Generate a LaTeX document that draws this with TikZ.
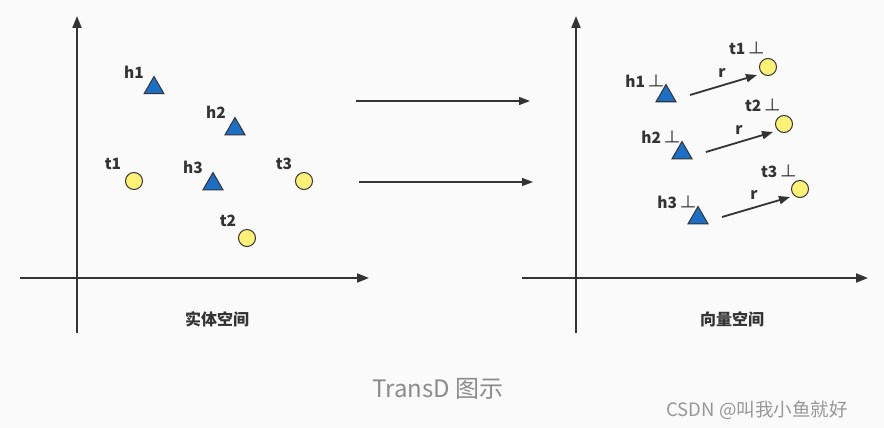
\documentclass[tikz,border=0pt]{standalone}
\usepackage{fontspec}
\setmainfont{Noto Sans CJK SC}
\usetikzlibrary{shapes.geometric,arrows.meta}
\definecolor{headblue}{HTML}{1C6FC6}
\definecolor{tailyellow}{HTML}{FFF176}
\definecolor{inkgray}{HTML}{333333}
\definecolor{capgray}{HTML}{8C8C8C}
\definecolor{paper}{HTML}{FAFAFA}
\tikzset{
  headtri/.style={regular polygon, regular polygon sides=3, minimum size=23pt,
    inner sep=0pt, fill=headblue, draw=inkgray, line width=1pt},
  tailcirc/.style={circle, minimum size=17pt, inner sep=0pt, fill=tailyellow,
    draw=inkgray, line width=1pt},
  lbl/.style={font=\bfseries\fontsize{15.5}{18}\selectfont, text=inkgray, inner sep=0pt},
  spacelbl/.style={font=\bfseries\fontsize{16}{18}\selectfont, text=inkgray, inner sep=0pt},
  axis/.style={line width=1.8pt, draw=inkgray, -{Triangle[length=12pt,width=9pt]}},
  mapto/.style={line width=1.3pt, draw=inkgray, -{Triangle[length=11pt,width=8pt]}},
  rel/.style={line width=1.8pt, draw=inkgray, -{Triangle[length=11pt,width=8pt]}}
}
\newcommand{\perpmark}{\,{\mdseries\fontsize{17}{18}\selectfont ⊥}}
\begin{document}
\begin{tikzpicture}[x=1pt,y=-1pt]
\useasboundingbox (0,0) rectangle (884,428);
\fill[paper] (0,0) rectangle (884,428);
%
% entity space
\coordinate (lyb) at (77,333);
\coordinate (lyt) at (77,16);
\coordinate (lxl) at (20,278);
\coordinate (lxr) at (369,278);
\draw[axis] (lyb) -- (lyt);
\draw[axis] (lxl) -- (lxr);
\node[spacelbl] (lcap) at (217,319) {实体空间};
%
\node[headtri] (h1) at (154,88) {};
\node[headtri] (h2) at (235,129) {};
\node[headtri] (h3) at (213,184) {};
\node[lbl] (h1lab) at (134,72) {h1};
\node[lbl] (h2lab) at (216,112) {h2};
\node[lbl] (h3lab) at (193,167) {h3};
%
\node[tailcirc] (t1) at (134,181) {};
\node[tailcirc] (t2) at (247,238) {};
\node[tailcirc] (t3) at (304,181) {};
\node[lbl] (t1lab) at (113,164) {t1};
\node[lbl] (t2lab) at (228,221) {t2};
\node[lbl] (t3lab) at (284,164) {t3};
%
% projection
\coordinate (m1a) at (356,101);
\coordinate (m1b) at (530,101);
\coordinate (m2a) at (359,182);
\coordinate (m2b) at (533,182);
\draw[mapto] (m1a) -- (m1b);
\draw[mapto] (m2a) -- (m2b);
%
% vector space
\coordinate (ryb) at (576,333);
\coordinate (ryt) at (576,16);
\coordinate (rxl) at (522,278);
\coordinate (rxr) at (868,278);
\draw[axis] (ryb) -- (ryt);
\draw[axis] (rxl) -- (rxr);
\node[spacelbl] (rcap) at (732,319) {向量空间};
%
\node[headtri] (h1p) at (666,96) {};
\node[headtri] (h2p) at (682,153) {};
\node[headtri] (h3p) at (698,218) {};
\node[lbl] (h1plab) at (645,81) {h1\perpmark};
\node[lbl] (h2plab) at (661,137) {h2\perpmark};
\node[lbl] (h3plab) at (677,202) {h3\perpmark};
%
\node[tailcirc] (t1p) at (768,67) {};
\node[tailcirc] (t2p) at (784,124) {};
\node[tailcirc] (t3p) at (800,189) {};
\node[lbl] (t1plab) at (747,48) {t1\perpmark};
\node[lbl] (t2plab) at (763,105) {t2\perpmark};
\node[lbl] (t3plab) at (779,171) {t3\perpmark};
%
\coordinate (r1a) at (690,95);
\coordinate (r1b) at (757,75);
\coordinate (r2a) at (706,152);
\coordinate (r2b) at (773,132);
\coordinate (r3a) at (722,217);
\coordinate (r3b) at (790,197);
\draw[rel] (r1a) -- (r1b);
\draw[rel] (r2a) -- (r2b);
\draw[rel] (r3a) -- (r3b);
\node[lbl] (r1lab) at (722,73) {r};
\node[lbl] (r2lab) at (739,130) {r};
\node[lbl] (r3lab) at (754,195) {r};
%
\node[font=\fontsize{24}{26}\selectfont, text=capgray] (title) at (438,389) {TransD 图示};
\node[font=\fontsize{18.5}{20}\selectfont, text=capgray!90] (mark) at (757,410) {CSDN @叫我小鱼就好};
\end{tikzpicture}
\end{document}
